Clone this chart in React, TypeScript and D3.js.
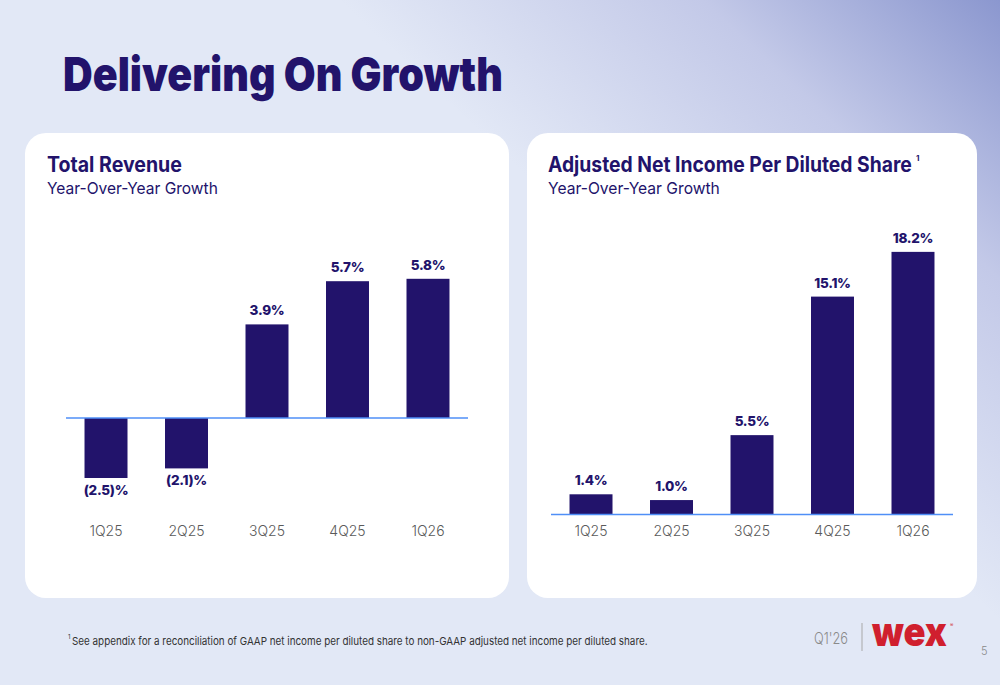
import React, { useLayoutEffect, useRef } from 'react';
import * as d3 from 'd3';

const quarters = ['1Q25', '2Q25', '3Q25', '4Q25', '1Q26'];
const revenueGrowth = [-2.5, -2.1, 3.9, 5.7, 5.8];
const epsGrowth = [1.4, 1.0, 5.5, 15.1, 18.2];

const NAVY = '#22136b';
const LINE_BLUE = '#4f8ff7';
const FONT = 'Inter, "Noto Sans", sans-serif';

const fmt = (v: number) => (v < 0 ? `(${Math.abs(v).toFixed(1)})%` : `${v.toFixed(1)}%`);

// text squeezed/stretched horizontally to a target width (the slide font is wider than ours)
const FitText: React.FC<{ x: number; y: number; w: number; children: string; [k: string]: any }> = ({ x, y, w, children, ...rest }) => {
  const ref = useRef<SVGTextElement>(null);
  useLayoutEffect(() => {
    if (!ref.current) return;
    const natural = ref.current.getComputedTextLength();
    const k = natural > 0 ? w / natural : 1;
    d3.select(ref.current).attr('transform', `translate(${x},${y}) scale(${k},1) translate(${-x},${-y})`);
  }, [x, y, w, children]);
  return (
    <text ref={ref} x={x} y={y} {...rest}>
      {children}
    </text>
  );
};

interface PanelProps {
  x0: number;
  x1: number;
  zeroY: number;
  pxPerUnit: number;
  values: number[];
}

const BarPanel: React.FC<PanelProps> = ({ x0, x1, zeroY, pxPerUnit, values }) => {
  const x = d3.scaleBand<string>().domain(quarters).range([x0, x1]).paddingInner(0.466).paddingOuter(0.23);
  // linear scale: zero sits on the baseline
  const y = d3.scaleLinear().domain([0, 10]).range([zeroY, zeroY - 10 * pxPerUnit]);

  return (
    <g>
      {values.map((v, i) => {
        const q = quarters[i];
        const top = Math.min(y(v), y(0));
        const h = Math.abs(y(v) - y(0));
        const cx = (x(q) as number) + x.bandwidth() / 2;
        return (
          <g key={q}>
            <rect x={x(q)} y={top} width={x.bandwidth()} height={h} fill={NAVY} />
            <text
              x={cx}
              y={v >= 0 ? y(v) - 9 : y(v) + 17}
              textAnchor="middle"
              fontFamily={FONT}
              fontWeight={800}
              fontSize={13.5}
              letterSpacing={-0.3}
              fill={NAVY}
            >
              {fmt(v)}
            </text>
            <text x={cx} y={536} textAnchor="middle" fontFamily={FONT} fontWeight={300} fontSize={14} fill="#5a5a5a">
              {q}
            </text>
          </g>
        );
      })}
      <line x1={x0} x2={x1} y1={y(0)} y2={y(0)} stroke={LINE_BLUE} strokeWidth={1.5} />
    </g>
  );
};

const App: React.FC = () => {
  return (
    <svg width={1000} height={685} style={{ position: 'absolute', left: 0, top: 0 }}>
      <defs>
        <linearGradient id="bg" gradientUnits="userSpaceOnUse" x1={1000} y1={0} x2={690} y2={330}>
          <stop offset="0" stopColor="#8b97cf" />
          <stop offset="0.45" stopColor="#c3c9e8" />
          <stop offset="1" stopColor="#e2e8f6" />
        </linearGradient>
      </defs>
      <rect width={1000} height={685} fill="#e2e8f6" />
      <rect width={1000} height={685} fill="url(#bg)" />

      <FitText x={63} y={91} w={440} fontFamily={FONT} fontWeight={900} fontSize={47} fill={NAVY}>
        Delivering On Growth
      </FitText>

      {/* cards */}
      <rect x={25} y={133} width={484} height={465} rx={21} fill="#ffffff" />
      <rect x={527} y={133} width={450} height={465} rx={21} fill="#ffffff" />

      <FitText x={47} y={172} w={135} fontFamily={FONT} fontWeight={700} fontSize={21} fill={NAVY}>
        Total Revenue
      </FitText>
      <FitText x={47} y={194} w={171} fontFamily={FONT} fontWeight={400} fontSize={16.5} fill={NAVY}>
        Year-Over-Year Growth
      </FitText>

      <FitText x={548} y={172} w={364} fontFamily={FONT} fontWeight={700} fontSize={21} fill={NAVY}>
        Adjusted Net Income Per Diluted Share
      </FitText>
      <text x={916} y={161} fontFamily={FONT} fontWeight={700} fontSize={8} fill={NAVY}>1</text>
      <FitText x={548} y={194} w={172} fontFamily={FONT} fontWeight={400} fontSize={16.5} fill={NAVY}>
        Year-Over-Year Growth
      </FitText>

      <BarPanel x0={66} x1={468} zeroY={418} pxPerUnit={24} values={revenueGrowth} />
      <BarPanel x0={551} x1={953} zeroY={514.5} pxPerUnit={14.43} values={epsGrowth} />

      {/* footer */}
      <text x={68} y={639} fontFamily={FONT} fontSize={6} fill="#333">1</text>
      <FitText x={72} y={645} w={576} fontFamily={FONT} fontSize={11} fill="#333">
        See appendix for a reconciliation of GAAP net income per diluted share to non-GAAP adjusted net income per diluted share.
      </FitText>
      <FitText x={814} y={644} w={34} fontFamily={FONT} fontWeight={300} fontSize={16} fill="#8a8a8a">
        Q1'26
      </FitText>
      <line x1={862} x2={862} y1={623} y2={651} stroke="#a8a8a8" strokeWidth={1} />
      <FitText x={872} y={646} w={75} fontFamily={FONT} fontWeight={900} fontSize={41} fill="#d01f2e">
        wex
      </FitText>
      <text x={950} y={627} fontFamily={FONT} fontSize={5} fill="#d01f2e">®</text>
      <text x={981} y={655} fontFamily={FONT} fontWeight={300} fontSize={11} fill="#888">5</text>
    </svg>
  );
};

export default App;
